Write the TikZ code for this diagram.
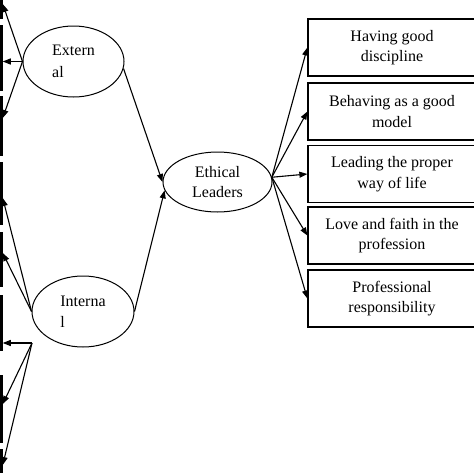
\documentclass[tikz,border=0pt]{standalone}
\usepackage{fontspec}
\setmainfont{Liberation Serif}
\usetikzlibrary{shapes.geometric,arrows.meta,calc}
\begin{document}
\begin{tikzpicture}[x=1pt,y=-1pt,
  lbox/.style={draw, line width=2.5pt, minimum width=100pt, inner sep=0pt},
  rbox/.style={draw, line width=1.3pt, minimum width=168pt, minimum height=57pt,
    inner sep=0pt, align=center, font=\fontsize{16}{20.5}\selectfont},
  ell/.style={ellipse, draw, line width=1pt, inner sep=0pt},
  conn/.style={line width=1.1pt, -{Triangle[length=8pt,width=6pt]}}]
\useasboundingbox (0,0) rectangle (474,472);
\clip (0,0) rectangle (474,472);
% cut-off boxes at the left edge
\node[lbox, minimum height=58pt] (lb1) at (-48.5,-11) {};
\node[lbox, minimum height=64pt] (lb2) at (-48.5,58) {};
\node[lbox, minimum height=58pt] (lb3) at (-48.5,126) {};
\node[lbox, minimum height=61pt] (lb4) at (-48.5,193.5) {};
\node[lbox, minimum height=53pt] (lb5) at (-48.5,259.5) {};
\node[lbox, minimum height=54pt] (lb6) at (-48.5,323) {};
\node[lbox, minimum height=66pt] (lb7) at (-48.5,409) {};
\node[lbox, minimum height=70pt] (lb8) at (-48.5,485) {};
% ellipses
\node[ell, minimum width=101pt, minimum height=71pt, align=left,
  font=\fontsize{16}{22}\selectfont] (ext) at (73.5,61.5) {Extern\\al};
\node[ell, minimum width=102pt, minimum height=71pt, align=left,
  font=\fontsize{16}{21}\selectfont] (int) at (83,311.5) {Interna\\l};
\node[ell, minimum width=109pt, minimum height=60pt, align=center,
  font=\fontsize{16}{20}\selectfont] (eth) at (217.5,182) {Ethical\\Leaders};
% right boxes
\node[rbox] (r1) at (392,47.5) {Having good\\discipline};
\node[rbox] (r2) at (392,111.5) {Behaving as a good\\model};
\node[rbox] (r3) at (392,174) {Leading the proper\\way of life};
\node[rbox] (r4) at (392,235.5) {Love and faith in the\\profession};
\node[rbox] (r5) at (392,298.5) {Professional\\responsibility};
\coordinate (p) at (32,343);
% connectors
\draw[conn] (ext.-8) -- (eth.west);
\draw[conn] (int.east) -- (eth.-171);
\foreach \r in {r1,r2,r3,r4,r5} \draw[conn] (eth.5) -- (\r.west);
\draw[conn] (ext.west) -- ($(lb1.east)+(0,15)$);
\draw[conn] (ext.west) -- (ext.west -| lb2.east);
\draw[conn] (ext.west) -- ($(lb3.east)+(0,-8)$);
\draw[conn] (int.west) -- ($(lb4.east)+(0,4.5)$);
\draw[conn] (int.west) -- ($(lb5.east)+(0,-6.5)$);
\draw[conn] (p) -- (p -| lb6.east);
\draw[conn] (p) -- ($(lb7.east)+(0,-5)$);
\draw[conn] (p) -- ($(lb8.east)+(0,-20)$);
\end{tikzpicture}
\end{document}
